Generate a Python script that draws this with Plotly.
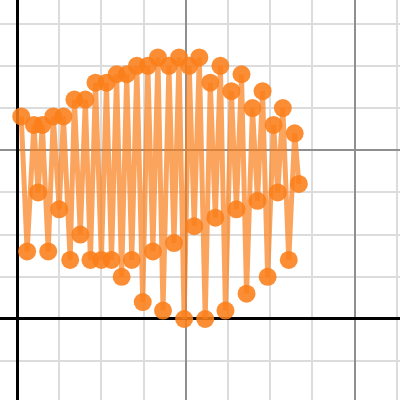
import plotly.graph_objects as go

# Point sequence, in graph units (minor grid = 0.5)
x_vals = [0.05, 0.12, 0.20, 0.25, 0.30, 0.37, 0.43, 0.50, 0.55, 0.63,
          0.68, 0.75, 0.81, 0.87, 0.93, 1.00, 1.06, 1.12, 1.18, 1.24,
          1.30, 1.36, 1.42, 1.49, 1.55, 1.61, 1.67, 1.73, 1.80, 1.86,
          1.92, 1.98, 2.04, 2.10, 2.16, 2.23, 2.29, 2.35, 2.41, 2.47,
          2.54, 2.60, 2.66, 2.72, 2.79, 2.85, 2.91, 2.97, 3.04, 3.09,
          3.15, 3.22, 3.29, 3.34]
y_vals = [2.40, 0.80, 2.30, 1.50, 2.30, 0.80, 2.40, 1.30, 2.40, 0.70,
          2.60, 1.00, 2.60, 0.70, 2.80, 0.70, 2.80, 0.70, 2.90, 0.50,
          2.90, 0.70, 3.00, 0.20, 3.00, 0.80, 3.10, 0.10, 3.00, 0.90,
          3.10, 0.00, 3.00, 1.10, 3.10, 0.00, 2.80, 1.20, 3.00, 0.10,
          2.70, 1.30, 2.90, 0.30, 2.50, 1.40, 2.70, 0.50, 2.30, 1.50,
          2.50, 0.70, 2.20, 1.60]

x_range = [-0.2014, 4.538]
y_range = [-0.96, 3.78]

fig = go.Figure()
fig.add_trace(go.Scatter(
    x=x_vals, y=y_vals, mode="lines",
    line=dict(color="rgba(250,126,25,0.7)", width=5),
    hoverinfo="skip", showlegend=False))
fig.add_trace(go.Scatter(
    x=x_vals, y=y_vals, mode="markers",
    marker=dict(color="rgba(250,126,25,0.88)", size=18, line=dict(width=0)),
    showlegend=False))

axis_common = dict(
    showticklabels=False, ticks="",
    showgrid=True, gridcolor="#8f8f8f", gridwidth=2, dtick=2, tick0=0,
    minor=dict(showgrid=True, dtick=0.5, tick0=0, gridcolor="#dcdcdc", gridwidth=2),
    zeroline=True, zerolinecolor="#000000", zerolinewidth=3,
    showline=False, fixedrange=True,
)
fig.update_layout(
    width=400, height=400,
    margin=dict(l=0, r=0, t=0, b=0),
    paper_bgcolor="white", plot_bgcolor="white",
    xaxis=dict(range=x_range, **axis_common),
    yaxis=dict(range=y_range, **axis_common),
)
fig.write_html("out.html", config={"displayModeBar": False},
               post_script="document.body.style.margin='0';document.body.style.padding='0';")
